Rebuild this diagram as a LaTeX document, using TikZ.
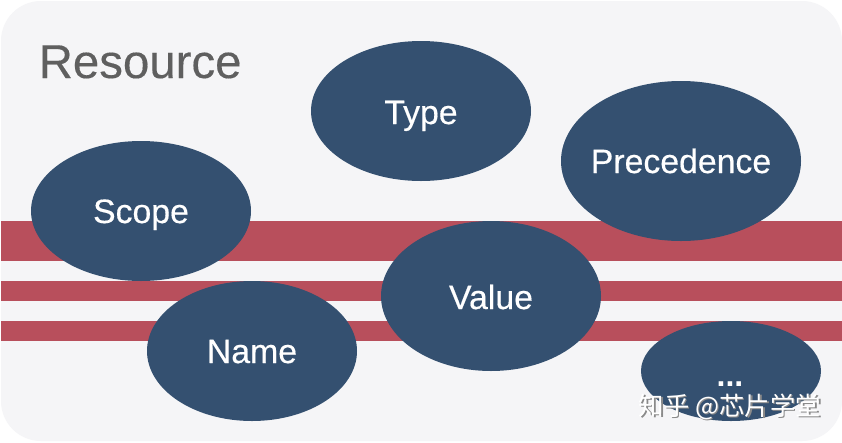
\documentclass[tikz,border=0pt]{standalone}
\usepackage{fontspec}
\setmainfont{Liberation Sans}
\newfontfamily\cjk{Noto Sans CJK SC}
\definecolor{panelbg}{HTML}{F5F5F7}
\definecolor{stripe}{HTML}{B84F5C}
\definecolor{blob}{HTML}{345070}
\definecolor{titlegray}{HTML}{5F5F5F}
\definecolor{markgray}{HTML}{8A8A8A}
\newcommand{\blobtext}[2]{\raisebox{-#1pt}[0pt][0pt]{\makebox[0pt]{#2}}}
\tikzset{
  x=1pt,y=-1pt,
  panel/.style={fill=panelbg,draw=none,rounded corners=40pt},
  stripebar/.style={fill=stripe,draw=none},
  blobnode/.style={ellipse,fill=blob,draw=none,inner sep=0pt,text=white,font=\addfontfeature{FakeBold=0.4}\fontsize{33.8}{36}\selectfont},
  titletext/.style={text=titlegray,font=\addfontfeature{FakeBold=0.3}\fontsize{47.4}{50}\selectfont,inner sep=0pt,anchor=base west},
  marktext/.style={font=\cjk\fontsize{25.4}{28}\selectfont,inner sep=0pt,anchor=center}
}
\usetikzlibrary{shapes.geometric}
\begin{document}
\begin{tikzpicture}
\useasboundingbox (0,0) rectangle (842,442);
\fill[white] (0,0) rectangle (842,442);
\path[panel] (1,1) rectangle (842,441);
\path[stripebar] (1,221) rectangle (842,261);
\path[stripebar] (1,281) rectangle (842,301);
\path[stripebar] (1,321) rectangle (842,341);
\node[titletext] (title) at (38.5,78) {Resource};
\node[blobnode,minimum width=220pt,minimum height=140pt] (type) at (421,111) {\blobtext{13}{Type}};
\node[blobnode,minimum width=240pt,minimum height=160pt] (prec) at (681,161) {\blobtext{12}{Precedence}};
\node[blobnode,minimum width=220pt,minimum height=140pt] (scope) at (141,211) {\blobtext{12}{Scope}};
\node[blobnode,minimum width=210pt,minimum height=140pt] (name) at (252,351) {\blobtext{12}{Name}};
\node[blobnode,minimum width=220pt,minimum height=150pt] (value) at (491,296) {\blobtext{13}{Value}};
\node[blobnode,minimum width=180pt,minimum height=100pt] (more) at (731,371) {};
\node[text=white,font=\bfseries\fontsize{32}{36}\selectfont,inner sep=0pt,anchor=base] (dots) at (730,386) {...};
\node[marktext,text=markgray] (markshadow) at (731.5,408) {知乎 @芯片学堂};
\node[marktext,text=white] (mark) at (730,407) {知乎 @芯片学堂};
\end{tikzpicture}
\end{document}
